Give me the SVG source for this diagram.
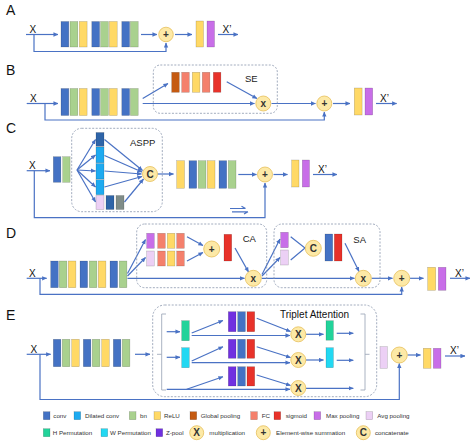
<svg xmlns="http://www.w3.org/2000/svg" width="474" height="445" viewBox="0 0 474 445">
<defs>
<marker id="ah" viewBox="0 0 6 6" refX="5.5" refY="3" markerWidth="5" markerHeight="5" orient="auto" markerUnits="userSpaceOnUse"><path d="M0,0.4 L6,3 L0,5.6 z" fill="#4a72c4"/></marker>
<style>
.b{stroke:rgba(0,0,0,0.28);stroke-width:0.5}
.conv{fill:#4472c4}.dil{fill:#1eaaf0}.bn{fill:#a9d18e}.relu{fill:#ffd966}.gp{fill:#c55a11}.fc{fill:#f4806c}.sig{fill:#e8322a}.maxp{fill:#c86ee8}.avgp{fill:#ecd0f5}.hp{fill:#22d39a}.wp{fill:#22d8f2}.zp{fill:#7030e0}.gray{fill:#7f8c88}.dconv{fill:#2e64a8}
.op{fill:#fde9a6;stroke:#e6bf5a;stroke-width:0.8}
.ot{font-family:"Liberation Sans",Arial,sans-serif;font-size:10px;font-weight:bold;fill:#333;text-anchor:middle}
.ln{fill:none;stroke:#4a72c4;stroke-width:1.2}
.gl{fill:none;stroke:#a0aabb;stroke-width:0.9}
.ar{fill:none;stroke:#4a72c4;stroke-width:1.2;marker-end:url(#ah)}
.box{fill:none;stroke:#8a97ad;stroke-width:0.8;stroke-dasharray:2,1.5}
.pl{font-family:"Liberation Sans",Arial,sans-serif;font-size:14px;fill:#111}
.tx{font-family:"Liberation Sans",Arial,sans-serif;font-size:10px;fill:#111}
.lb{font-family:"Liberation Sans",Arial,sans-serif;font-size:9.5px;fill:#222}
.lg{font-family:"Liberation Sans",Arial,sans-serif;font-size:6.2px;fill:#333}
</style>
</defs>
<rect width="474" height="445" fill="#ffffff"/>

<g id="connectors">
<path class="ar" d="M26,34.5 H58"/>
<path class="ar" d="M141,34.5 H157"/>
<path class="ar" d="M175,34.5 H192"/>
<path class="ar" d="M218,34.5 H238"/>
<path class="ar" d="M34,34.5 V51.5 H166 V43"/>
<path class="ar" d="M26.7,103.5 H58"/>
<path class="ar" d="M142.7,103.5 H254.5"/>
<path class="ar" d="M142.7,98.5 L168,83.5"/>
<path class="ar" d="M226.7,81.7 L257,98.5"/>
<path class="ar" d="M271.5,103.5 H315.5"/>
<path class="ar" d="M333,103.5 H350"/>
<path class="ar" d="M376,103.5 H396.7"/>
<path class="ar" d="M45,103.5 V120 H324.3 V112"/>
<path class="ar" d="M26.7,170.7 H50"/>
<path class="ar" d="M77,170 L95.5,139.5"/>
<path class="ar" d="M77,170 L95.5,155"/>
<path class="ar" d="M77,170 L95.5,171"/>
<path class="ar" d="M77,170 L95.5,187"/>
<path class="ar" d="M77,170 L95.5,202"/>
<path class="ar" d="M104.5,139.5 L142.5,170.5"/>
<path class="ar" d="M104.5,155.5 L142,172"/>
<path class="ar" d="M104.5,171 L141.5,174"/>
<path class="ar" d="M104.5,187 L142,176.5"/>
<path class="ar" d="M124.5,202 L143.5,179"/>
<path class="ar" d="M157.5,174 H173.5"/>
<path class="ar" d="M238.3,174.5 H256.5"/>
<path class="ar" d="M273.5,174.5 H287.5"/>
<path class="ar" d="M313,174.5 H337"/>
<path class="ar" d="M34.3,170.7 V217.7 H265 V183"/>
<path class="ln" d="M230,208.5 H245.5 M241.5,206.2 L245.5,208.5 M232,211.8 H248 M244,214.1 L248,211.8" stroke-width="0.9"/>
<path class="ar" d="M26.7,278.3 H46.7"/>
<path class="ar" d="M127.5,278.3 H244.5"/>
<path class="ar" d="M127.5,273.5 L145.5,239.5"/>
<path class="ar" d="M127.5,276 L145.5,257.5"/>
<path class="ar" d="M187,236.7 L203,245.5"/>
<path class="ar" d="M187,261 L203,252.5"/>
<path class="ar" d="M235,248 L248.5,272"/>
<path class="ar" d="M262,274.5 L280,239"/>
<path class="ar" d="M262,276 L280,257.5"/>
<path class="ln" d="M290.7,236.7 L305,248 L290.7,260"/>
<path class="ar" d="M345,243.3 L359,271.5"/>
<path class="ar" d="M261.5,278.3 H354.5"/>
<path class="ar" d="M371.5,278.3 H392.5"/>
<path class="ar" d="M410,278.3 H423.5"/>
<path class="ar" d="M450,278.3 H470"/>
<path class="ar" d="M40,278.3 V294.3 H401.7 V287"/>
<path class="ar" d="M26.7,354.3 H50.7"/>
<path class="ar" d="M135,354.3 H150"/>
<path class="gl" d="M157,354.3 H161.7 M166,314 H161.7 V390 H166"/>
<path class="gl" d="M360.5,314 H365 V390 H360.5 M365,354.3 H369.5"/>
<path class="ar" d="M166.7,331.7 H180"/>
<path class="ar" d="M191.7,333 L223,320.5"/>
<path class="ar" d="M191.7,335.5 H290"/>
<path class="ar" d="M256.7,318.3 L290.5,331.5"/>
<path class="ar" d="M306,334.3 H323.5"/>
<path class="ar" d="M336.7,333.3 H353.3"/>
<path class="ar" d="M166.7,357.3 H180"/>
<path class="ar" d="M191.7,361 L223,346.7"/>
<path class="ar" d="M191.7,362.7 H290"/>
<path class="ar" d="M256.7,346.7 L290.5,357.5"/>
<path class="ar" d="M306,360 H323.5"/>
<path class="ar" d="M336.7,360.3 H353.3"/>
<path class="ar" d="M166.7,389.3 H290"/>
<path class="ar" d="M186.7,389.3 L223,376.7"/>
<path class="ar" d="M256.7,375 L290.5,385.5"/>
<path class="ar" d="M306,388.3 H353.3"/>
<path class="ar" d="M407.5,355 H420.5"/>
<path class="ar" d="M445,356 H465"/>
<path class="ar" d="M40,354.3 V399.5 H399.3 V363.5"/>
</g>

<g id="panelA">
<text class="pl" x="6" y="15">A</text>
<g id="A-in"><text class="tx" x="29.5" y="33.3">X</text></g>
<g id="A-blocks">
<rect class="b conv" x="61" y="21.5" width="7.8" height="25.5"/>
<rect class="b bn" x="70" y="21.5" width="7.8" height="25.5"/>
<rect class="b relu" x="79.3" y="21.5" width="7.8" height="25.5"/>
<rect class="b conv" x="91.8" y="21.5" width="7.8" height="25.5"/>
<rect class="b bn" x="100.6" y="21.5" width="7.8" height="25.5"/>
<rect class="b relu" x="109.4" y="21.5" width="7.8" height="25.5"/>
<rect class="b conv" x="121.8" y="21.5" width="7.8" height="25.5"/>
<rect class="b bn" x="130.4" y="21.5" width="7.8" height="25.5"/>
</g>
<g id="A-sum"><circle class="op" cx="166" cy="34.5" r="7.3"/><text class="ot" x="166" y="38.2">+</text></g>
<g id="A-out">
<rect class="b relu" x="196" y="21" width="7.5" height="26"/>
<rect class="b maxp" x="207" y="21" width="7.5" height="26"/>
<text class="tx" x="222.5" y="33.3">X’</text>
</g>
</g>

<g id="panelB">
<text class="pl" x="6" y="75">B</text>
<g id="B-in"><text class="tx" x="30" y="102.3">X</text></g>
<g id="B-blocks">
<rect class="b conv" x="61" y="88.5" width="7.8" height="27"/>
<rect class="b bn" x="70" y="88.5" width="7.8" height="27"/>
<rect class="b relu" x="79.3" y="88.5" width="7.8" height="27"/>
<rect class="b conv" x="91.8" y="88.5" width="7.8" height="27"/>
<rect class="b bn" x="100.6" y="88.5" width="7.8" height="27"/>
<rect class="b relu" x="109.4" y="88.5" width="7.8" height="27"/>
<rect class="b conv" x="121.8" y="88.5" width="7.8" height="27"/>
<rect class="b bn" x="130.4" y="88.5" width="7.8" height="27"/>
</g>
<g id="B-SE">
<rect class="box" x="153.3" y="65" width="124" height="48.3" rx="7"/>
<text class="lb" x="245" y="81.5">SE</text>
<rect class="b gp" x="171.7" y="72.3" width="7.6" height="20"/>
<rect class="b fc" x="181.7" y="72.3" width="7.6" height="20"/>
<rect class="b relu" x="192.3" y="72.3" width="7.6" height="20"/>
<rect class="b fc" x="202.3" y="72.3" width="7.6" height="20"/>
<rect class="b sig" x="213.3" y="72.3" width="7.6" height="20"/>
<circle class="op" cx="263.3" cy="103.5" r="7.5"/><text class="ot" x="263.3" y="106.8">x</text>
</g>
<g id="B-sum"><circle class="op" cx="324.3" cy="103.5" r="7.5"/><text class="ot" x="324.3" y="107.2">+</text></g>
<g id="B-out">
<rect class="b relu" x="354.3" y="88" width="7.8" height="27"/>
<rect class="b maxp" x="365" y="88" width="7.7" height="27"/>
<text class="tx" x="380" y="101.5">X’</text>
</g>
</g>

<g id="panelC">
<text class="pl" x="6" y="133">C</text>
<g id="C-in"><text class="tx" x="29" y="168.8">X</text></g>
<g id="C-pre">
<rect class="b conv" x="53.3" y="156.7" width="7.6" height="25.6"/>
<rect class="b bn" x="62.7" y="156.7" width="7.4" height="25.6"/>
</g>
<g id="C-ASPP">
<rect class="box" x="71.7" y="128.3" width="90.6" height="83.4" rx="10"/>
<text class="lb" x="130" y="145.5">ASPP</text>
<rect class="b dconv" x="96" y="132.5" width="8" height="13.8"/>
<rect class="b dil" x="96" y="147" width="8" height="15.8"/>
<rect class="b dil" x="96" y="163.5" width="8" height="15.5"/>
<rect class="b dil" x="96" y="179.7" width="8" height="15"/>
<rect class="b avgp" x="96" y="195.5" width="8" height="14"/>
<rect class="b dconv" x="106" y="195.5" width="8" height="14"/>
<rect class="b gray" x="116" y="195.5" width="8" height="14"/>
<circle class="op" cx="150" cy="174" r="7.5"/><text class="ot" x="150" y="177.5">C</text>
</g>
<g id="C-blocks">
<rect class="b relu" x="176.7" y="160.7" width="7.8" height="27.6"/>
<rect class="b conv" x="189" y="160.7" width="7.7" height="27.6"/>
<rect class="b bn" x="198.3" y="160.7" width="7.7" height="27.6"/>
<rect class="b relu" x="207.3" y="160.7" width="7.7" height="27.6"/>
<rect class="b conv" x="219" y="160.7" width="7.7" height="27.6"/>
<rect class="b bn" x="228.3" y="160.7" width="7.7" height="27.6"/>
</g>
<g id="C-sum"><circle class="op" cx="265" cy="174.5" r="7.5"/><text class="ot" x="265" y="178.2">+</text></g>
<g id="C-out">
<rect class="b relu" x="291.7" y="160" width="7.3" height="27"/>
<rect class="b maxp" x="302.3" y="160" width="7.2" height="27"/>
<text class="tx" x="318" y="172.5">X’</text>
</g>
</g>

<g id="panelD">
<text class="pl" x="6" y="238">D</text>
<g id="D-in"><text class="tx" x="29" y="276.5">X</text></g>
<g id="D-blocks">
<rect class="b conv" x="50.7" y="261" width="7.6" height="26.7"/>
<rect class="b bn" x="59.3" y="261" width="7.6" height="26.7"/>
<rect class="b relu" x="68.3" y="261" width="7.6" height="26.7"/>
<rect class="b conv" x="80" y="261" width="7.6" height="26.7"/>
<rect class="b bn" x="89.3" y="261" width="7.6" height="26.7"/>
<rect class="b relu" x="98.3" y="261" width="7.6" height="26.7"/>
<rect class="b conv" x="110" y="261" width="7.6" height="26.7"/>
<rect class="b bn" x="119.3" y="261" width="7.6" height="26.7"/>
</g>
<g id="D-CA">
<rect class="box" x="136.7" y="224" width="130" height="63.7" rx="8"/>
<text class="lb" x="242.7" y="242.3">CA</text>
<rect class="b maxp" x="146.7" y="233.3" width="7.6" height="15"/>
<rect class="b avgp" x="146.7" y="251" width="7.6" height="15"/>
<rect class="b fc" x="157.7" y="233.3" width="7.6" height="15"/>
<rect class="b relu" x="167.3" y="233.3" width="7.6" height="15"/>
<rect class="b fc" x="176.7" y="233.3" width="7.6" height="15"/>
<rect class="b fc" x="157.7" y="251" width="7.6" height="15"/>
<rect class="b relu" x="167.3" y="251" width="7.6" height="15"/>
<rect class="b fc" x="176.7" y="251" width="7.6" height="15"/>
<circle class="op" cx="211.7" cy="249" r="8"/><text class="ot" x="211.7" y="252.7">+</text>
<rect class="b sig" x="224" y="234.3" width="7.7" height="26.7"/>
<circle class="op" cx="253.3" cy="278.3" r="8"/><text class="ot" x="253.3" y="281.6">x</text>
</g>
<g id="D-SA">
<rect class="box" x="274" y="224" width="106" height="63.7" rx="8"/>
<text class="lb" x="353.3" y="243.3">SA</text>
<rect class="b maxp" x="280.7" y="232.3" width="7.6" height="15.4"/>
<rect class="b avgp" x="280.7" y="250" width="7.6" height="15"/>
<circle class="op" cx="313.3" cy="248.3" r="8"/><text class="ot" x="313.3" y="251.8">C</text>
<rect class="b conv" x="325" y="234" width="7.7" height="27"/>
<rect class="b sig" x="334.3" y="234" width="7.7" height="27"/>
<circle class="op" cx="363.3" cy="278.3" r="8"/><text class="ot" x="363.3" y="281.6">x</text>
</g>
<g id="D-sum"><circle class="op" cx="401.7" cy="278.3" r="8"/><text class="ot" x="401.7" y="282">+</text></g>
<g id="D-out">
<rect class="b relu" x="427.7" y="267.3" width="8" height="23"/>
<rect class="b maxp" x="438.3" y="267.3" width="7.7" height="23"/>
<text class="tx" x="455" y="276.5">X’</text>
</g>
</g>

<g id="panelE">
<text class="pl" x="6" y="320">E</text>
<g id="E-in"><text class="tx" x="30.5" y="352.5">X</text></g>
<g id="E-blocks">
<rect class="b conv" x="53.3" y="339.3" width="7.6" height="27.4"/>
<rect class="b bn" x="62.3" y="339.3" width="7.6" height="27.4"/>
<rect class="b relu" x="71.7" y="339.3" width="7.6" height="27.4"/>
<rect class="b conv" x="83.3" y="339.3" width="7.6" height="27.4"/>
<rect class="b bn" x="92.3" y="339.3" width="7.6" height="27.4"/>
<rect class="b relu" x="101.7" y="339.3" width="7.6" height="27.4"/>
<rect class="b conv" x="113.3" y="339.3" width="7.6" height="27.4"/>
<rect class="b bn" x="122.3" y="339.3" width="7.6" height="27.4"/>
</g>
<g id="E-TA">
<rect class="box" x="152.7" y="305" width="224" height="91.7" rx="12"/>
<text class="tx" x="280" y="318.3" font-size="10.5">Triplet Attention</text>
<rect class="b hp" x="181.7" y="320.7" width="7.6" height="20"/>
<rect class="b zp" x="228.3" y="311.7" width="7.7" height="20"/>
<rect class="b conv" x="237.7" y="311.7" width="7.7" height="20"/>
<rect class="b sig" x="247" y="311.7" width="7.7" height="20"/>
<circle class="op" cx="298.3" cy="334.3" r="7.5"/><text class="ot" x="298.3" y="337.8">X</text>
<rect class="b hp" x="326" y="320.7" width="7.4" height="19.5"/>
<rect class="b wp" x="181.7" y="347.7" width="7.6" height="20"/>
<rect class="b zp" x="228.3" y="339.3" width="7.7" height="19"/>
<rect class="b conv" x="237.7" y="339.3" width="7.7" height="19"/>
<rect class="b sig" x="247" y="339.3" width="7.7" height="19"/>
<circle class="op" cx="298.3" cy="360" r="7.5"/><text class="ot" x="298.3" y="363.5">X</text>
<rect class="b wp" x="326" y="347.7" width="7.4" height="20"/>
<rect class="b zp" x="228.3" y="366.7" width="7.7" height="19.3"/>
<rect class="b conv" x="237.7" y="366.7" width="7.7" height="19.3"/>
<rect class="b sig" x="247" y="366.7" width="7.7" height="19.3"/>
<circle class="op" cx="298.3" cy="388" r="7.5"/><text class="ot" x="298.3" y="391.5">X</text>
</g>
<g id="E-avg"><rect class="b avgp" x="380" y="346.7" width="7.3" height="21.6"/></g>
<g id="E-sum"><circle class="op" cx="399.3" cy="355" r="8"/><text class="ot" x="399.3" y="358.7">+</text></g>
<g id="E-out">
<rect class="b relu" x="423.3" y="348.3" width="7.7" height="20"/>
<rect class="b maxp" x="433.3" y="348.3" width="7.7" height="20"/>
<text class="tx" x="450" y="354">X’</text>
</g>
</g>

<g id="legend">
<rect class="b conv" x="43.3" y="411.7" width="6.7" height="8"/><text class="lg" x="53.3" y="418">conv</text>
<rect class="b dil" x="74" y="411.7" width="6.7" height="8"/><text class="lg" x="85" y="418">Dilated conv</text>
<rect class="b bn" x="129.3" y="411.7" width="6.7" height="8"/><text class="lg" x="140" y="418">bn</text>
<rect class="b relu" x="154" y="411.7" width="6.7" height="8"/><text class="lg" x="164" y="418">ReLU</text>
<rect class="b gp" x="190" y="411.7" width="6.7" height="8"/><text class="lg" x="200.7" y="418">Global pooling</text>
<rect class="b fc" x="250.7" y="411.7" width="6.7" height="8"/><text class="lg" x="261.7" y="418">FC</text>
<rect class="b sig" x="274" y="411.7" width="6.7" height="8"/><text class="lg" x="285.7" y="418">sigmoid</text>
<rect class="b maxp" x="314" y="411.7" width="6.7" height="8"/><text class="lg" x="326" y="418">Max pooling</text>
<rect class="b avgp" x="366" y="411.7" width="6.7" height="8"/><text class="lg" x="377.3" y="418">Avg pooling</text>
<rect class="b hp" x="43.3" y="428.7" width="6.7" height="8"/><text class="lg" x="52.7" y="435">H Permutation</text>
<rect class="b wp" x="101" y="428.7" width="6.7" height="8"/><text class="lg" x="110" y="435">W Permutation</text>
<rect class="b zp" x="156" y="428.7" width="6.7" height="8"/><text class="lg" x="166" y="435">Z-pool</text>
<circle class="op" cx="196.7" cy="432.7" r="7"/><text class="ot" x="196.7" y="436.2">X</text><text class="lg" x="209.3" y="435">multiplication</text>
<circle class="op" cx="263.3" cy="432.7" r="7"/><text class="ot" x="263.3" y="436.3">+</text><text class="lg" x="276" y="435">Element-wise summation</text>
<circle class="op" cx="363.3" cy="432.7" r="7"/><text class="ot" x="363.3" y="436.2">C</text><text class="lg" x="375" y="435">concatenate</text>
</g>
</svg>
